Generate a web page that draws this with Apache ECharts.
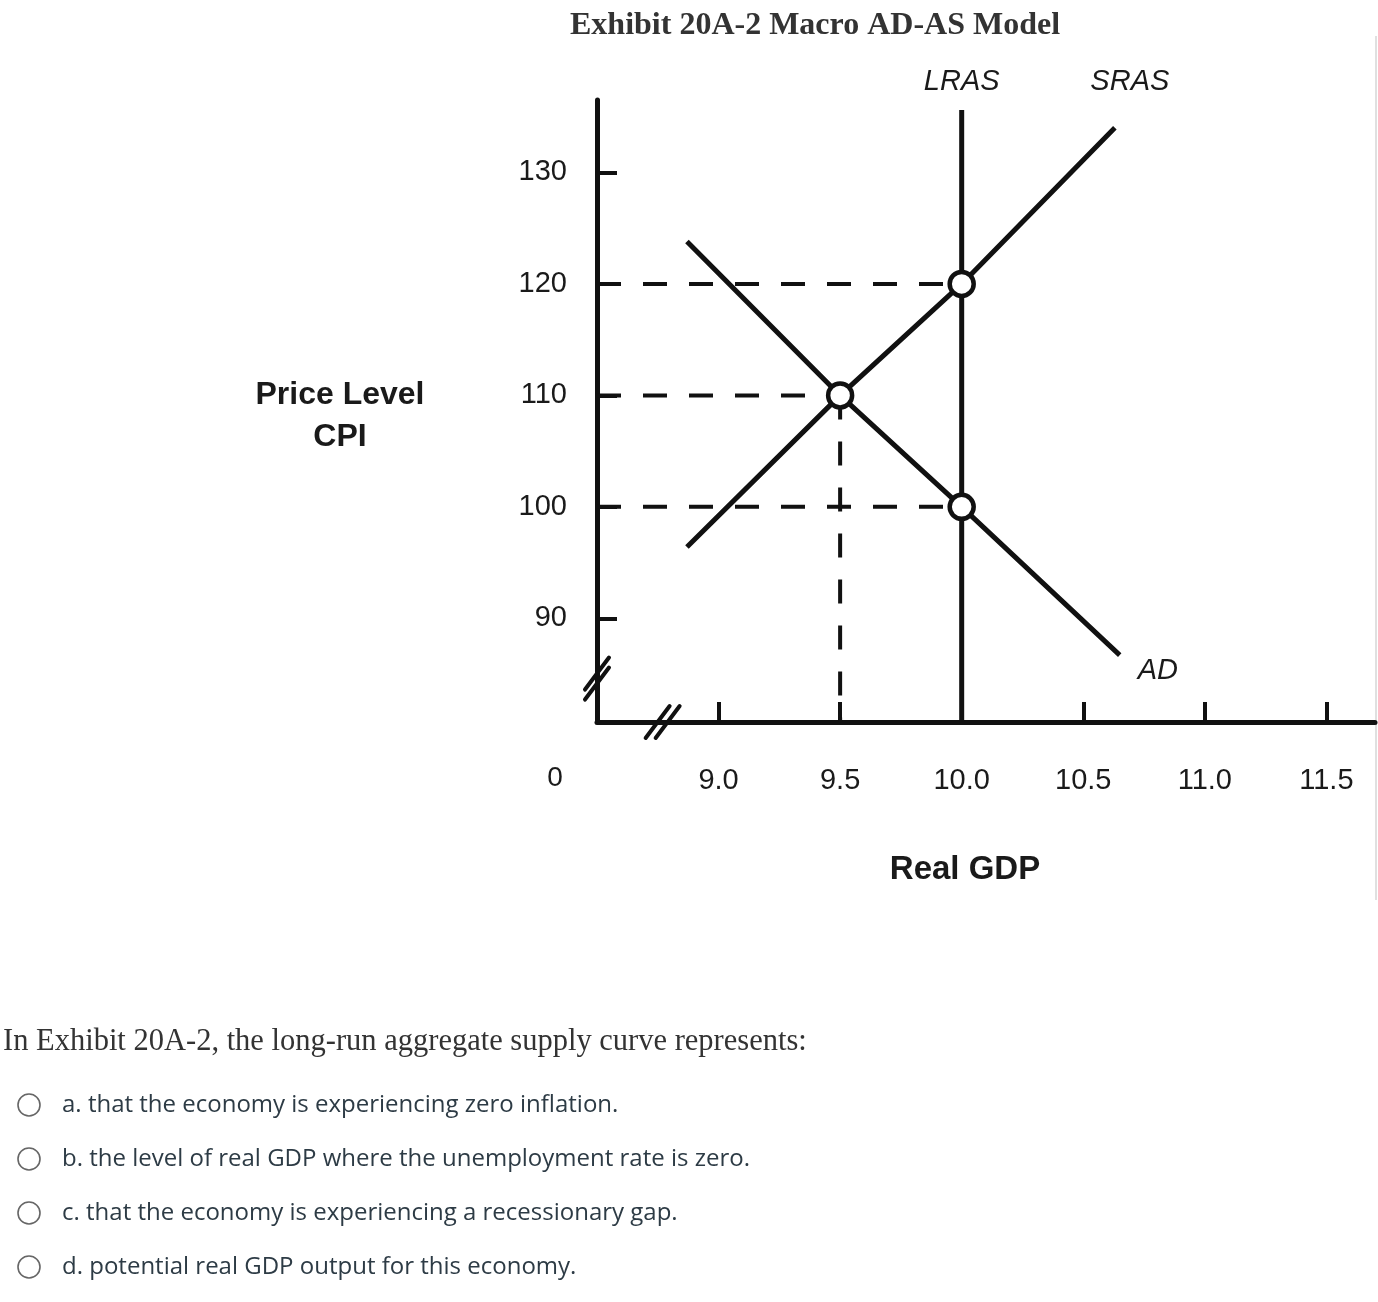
<!DOCTYPE html>
<html><head><meta charset="utf-8">
<script src="https://cdn.jsdelivr.net/npm/echarts@6/dist/echarts.min.js"></script>
<style>html,body{margin:0;padding:0;background:#fff}#c{width:1378px;height:1302px}</style>
</head><body><div id="c"></div>
<script>
const xTicks = [9.0, 9.5, 10.0, 10.5, 11.0, 11.5];
const yTicks = [90, 100, 110, 120, 130];
const sras = [[8.87, 96.4], [9.5, 110], [10.0, 120], [10.63, 134.0]];
const ad = [[8.87, 123.8], [9.5, 110], [10.0, 100], [10.65, 86.7]];
const lras = [[10.0, 80.7], [10.0, 135.6]];
const equilibria = [[9.5, 110], [10.0, 120], [10.0, 100]];
const guide120 = [[8.5, 120], [10.0, 120]];
const guide110 = [[8.5, 110], [9.5, 110]];
const guide100 = [[8.5, 100], [10.0, 100]];
const guide95 = [[9.5, 110], [9.5, 80.7]];
const breaks = [[8.5, 84.6, 'y'], [8.77, 80.7, 'x']];
const titleText = 'Exhibit 20A-2 Macro AD-AS Model';
const question = 'In Exhibit 20A-2, the long-run aggregate supply curve represents:';
const answers = [
  'a. that the economy is experiencing zero inflation.',
  'b. the level of real GDP where the unemployment rate is zero.',
  'c. that the economy is experiencing a recessionary gap.',
  'd. potential real GDP output for this economy.'
];

const SANS = 'Liberation Sans, Arial, sans-serif';
const INK = '#111';
const chart = echarts.init(document.getElementById('c'), null, {renderer: 'canvas'});

function dashed(data) {
  return {type: 'line', data: data, showSymbol: false, silent: true, z: 2,
    lineStyle: {color: INK, width: 4, type: [24, 22]}};
}

const graphic = [
  {type: 'text', left: 570, top: 10, style: {text: titleText, font: 'bold 32px "Liberation Serif", serif', fill: '#333'}},
  {type: 'text', x: 340, y: 395, style: {text: 'Price Level', font: 'bold 32px ' + SANS, fill: '#1a1a1a', align: 'center', verticalAlign: 'middle'}},
  {type: 'text', x: 340, y: 437, style: {text: 'CPI', font: 'bold 32px ' + SANS, fill: '#1a1a1a', align: 'center', verticalAlign: 'middle'}},
  {type: 'text', x: 965, y: 870, style: {text: 'Real GDP', font: 'bold 33px ' + SANS, fill: '#1a1a1a', align: 'center', verticalAlign: 'middle'}},
  {type: 'text', x: 555, y: 778, style: {text: '0', font: '28px ' + SANS, fill: '#1a1a1a', align: 'center', verticalAlign: 'middle'}},
  {type: 'line', shape: {x1: 1376, y1: 36, x2: 1376, y2: 900}, style: {stroke: '#d6d6d6', lineWidth: 1.5}},
  {type: 'text', x: 3, y: 1042, style: {text: question, font: '30.5px "Liberation Serif", serif', fill: '#333', verticalAlign: 'middle'}}
];
answers.forEach(function (a, i) {
  const cy = 1105 + i * 54;
  graphic.push({type: 'circle', shape: {cx: 29, cy: cy, r: 11}, style: {fill: '#fff', stroke: '#666', lineWidth: 1.6}});
  graphic.push({type: 'text', x: 62, y: cy, style: {text: a, font: '24px "Open Sans", sans-serif', fill: '#2d3b45', verticalAlign: 'middle'}});
});

chart.setOption({
  backgroundColor: '#fff',
  animation: false,
  grid: {left: 597, top: 100, width: 778, height: 622},
  xAxis: {
    type: 'value', min: 8.5, max: 11.7,
    axisLine: {show: true, lineStyle: {color: INK, width: 5}},
    axisTick: {show: true, inside: true, length: 20, customValues: xTicks, lineStyle: {color: INK, width: 4}},
    axisLabel: {show: true, customValues: xTicks, margin: 44, fontSize: 29, fontFamily: SANS, color: '#1a1a1a',
      formatter: function (v) { return v.toFixed(1); }},
    splitLine: {show: false}
  },
  yAxis: {
    type: 'value', min: 80.7, max: 136.5,
    axisLine: {show: true, lineStyle: {color: INK, width: 5}},
    axisTick: {show: true, inside: true, length: 20, customValues: yTicks, lineStyle: {color: INK, width: 4}},
    axisLabel: {show: true, customValues: yTicks, margin: 30, fontSize: 29, fontFamily: SANS, color: '#1a1a1a',
      padding: [9, 0, 0, 0]},
    splitLine: {show: false}
  },
  graphic: graphic,
  series: [
    dashed(guide120), dashed(guide110), dashed(guide100), dashed(guide95),
    {type: 'line', name: 'LRAS', data: lras, showSymbol: false, z: 3,
      lineStyle: {color: INK, width: 5},
      endLabel: {show: true, formatter: 'LRAS', distance: 0, offset: [0, -28], align: 'center', verticalAlign: 'middle',
        fontSize: 29, fontStyle: 'italic', fontFamily: SANS, color: '#1a1a1a'}},
    {type: 'line', name: 'SRAS', data: sras, showSymbol: false, z: 3,
      lineStyle: {color: INK, width: 5},
      endLabel: {show: true, formatter: 'SRAS', distance: 0, offset: [15, -46], align: 'center', verticalAlign: 'middle',
        fontSize: 29, fontStyle: 'italic', fontFamily: SANS, color: '#1a1a1a'}},
    {type: 'line', name: 'AD', data: ad, showSymbol: false, z: 3,
      lineStyle: {color: INK, width: 5},
      endLabel: {show: true, formatter: 'AD', distance: 0, offset: [18, 16], align: 'left', verticalAlign: 'middle',
        fontSize: 29, fontStyle: 'italic', fontFamily: SANS, color: '#1a1a1a'}},
    {type: 'scatter', data: equilibria, symbol: 'circle', symbolSize: 24, z: 5,
      itemStyle: {color: '#ffffff', opacity: 1, borderColor: INK, borderWidth: 4.5}},
    {type: 'custom', data: breaks, clip: false, z: 6, silent: true,
      renderItem: function (params, api) {
        const p = api.coord([api.value(0), api.value(1)]);
        const onY = breaks[params.dataIndex][2] === 'y';
        const children = [-5, 5].map(function (o) {
          const dx = onY ? 0 : o, dy = onY ? o : 0;
          return {type: 'line', shape: {x1: p[0] - 12 + dx, y1: p[1] + 16 + dy, x2: p[0] + 12 + dx, y2: p[1] - 16 + dy},
            style: {stroke: INK, lineWidth: 4, lineCap: 'round'}};
        });
        return {type: 'group', children: children};
      }}
  ]
});
</script></body></html>
